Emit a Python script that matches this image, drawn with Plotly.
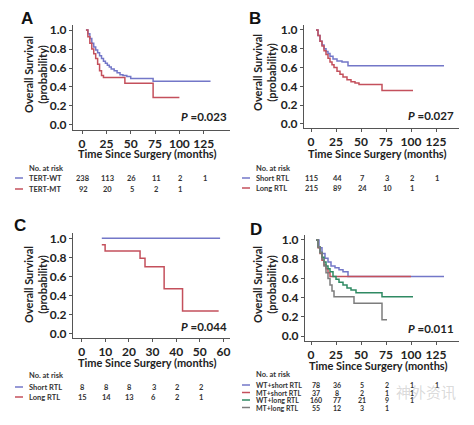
import plotly.graph_objects as go

# the page body has an 8px margin, so the figure is drawn 8px in from the corner
PAD = 8
W, H = 474 - PAD, 425 - PAD

# ---- survival curves (time in months, survival probability), step-wise ----
a_wt_t = [4, 6, 8, 10, 12, 14, 16, 18, 20, 22, 24, 26, 28, 30, 33, 36, 39, 42, 46, 50, 73, 132]
a_wt_s = [1.0, 0.96, 0.91, 0.86, 0.82, 0.79, 0.76, 0.73, 0.70, 0.67, 0.65, 0.63, 0.61, 0.59,
          0.57, 0.55, 0.53, 0.52, 0.51, 0.49, 0.46, 0.46]
a_mt_t = [4, 6, 8, 10, 12, 14, 16, 18, 20, 22, 44, 73, 100]
a_mt_s = [1.0, 0.93, 0.86, 0.80, 0.75, 0.70, 0.64, 0.57, 0.52, 0.50, 0.44, 0.29, 0.29]

b_short_t = [5, 7, 9, 11, 13, 15, 17, 19, 22, 26, 31, 37, 133]
b_short_s = [1.0, 0.94, 0.88, 0.84, 0.80, 0.77, 0.75, 0.72, 0.69, 0.67, 0.66, 0.62, 0.62]
b_long_t = [5, 7, 9, 11, 13, 15, 17, 19, 21, 23, 26, 29, 32, 36, 40, 44, 48, 71, 102]
b_long_s = [1.0, 0.94, 0.88, 0.83, 0.78, 0.74, 0.70, 0.66, 0.63, 0.60, 0.56, 0.53, 0.50,
            0.47, 0.45, 0.435, 0.42, 0.355, 0.355]

c_short_t = [8.5, 58.6]
c_short_s = [1.0, 1.0]
c_long_t = [8.5, 9.9, 24.7, 26.8, 34.9, 42.7, 58]
c_long_s = [0.933, 0.867, 0.79, 0.70, 0.47, 0.235, 0.235]

d_wts_t = [5, 8, 11, 14, 17, 20, 24, 28, 32, 37, 133]
d_wts_s = [1.0, 0.92, 0.86, 0.81, 0.77, 0.73, 0.71, 0.69, 0.67, 0.62, 0.62]
d_mts_t = [5, 7, 9, 11, 13, 15, 17, 19, 100]
d_mts_s = [1.0, 0.92, 0.86, 0.79, 0.74, 0.70, 0.66, 0.62, 0.62]
d_wtl_t = [5, 7, 9, 11, 13, 15, 17, 19, 22, 25, 28, 32, 36, 40, 45, 71, 102]
d_wtl_s = [1.0, 0.93, 0.87, 0.82, 0.77, 0.73, 0.70, 0.67, 0.62, 0.59, 0.56, 0.53, 0.50,
           0.48, 0.45, 0.41, 0.41]
d_mtl_t = [5, 7, 9, 11, 13, 15, 17, 19, 21, 23, 43, 71, 76]
d_mtl_s = [1.0, 0.93, 0.87, 0.80, 0.73, 0.66, 0.60, 0.53, 0.47, 0.41, 0.34, 0.17, 0.17]

# ---- numbers at risk ----
ab_risk_times = [0, 25, 50, 75, 100, 125]
c_risk_times = [0, 10, 20, 30, 40, 50]
c_x_ticks = [0, 10, 20, 30, 40, 50, 60]
a_labels = ["TERT-WT", "TERT-MT"]
a_risk = [[238, 113, 26, 11, 2, 1], [92, 20, 5, 2, 1]]
b_labels = ["Short RTL", "Long RTL"]
b_risk = [[115, 44, 7, 3, 2, 1], [215, 89, 24, 10, 1]]
c_labels = ["Short RTL", "Long RTL"]
c_risk = [[8, 8, 8, 3, 2, 2], [15, 14, 13, 6, 2, 1]]
d_labels = ["WT+short RTL", "MT+short RTL", "WT+long RTL", "MT+long RTL"]
d_risk = [[78, 36, 5, 2, 1, 1], [37, 8, 2, 1, 1], [160, 77, 21, 9, 1], [55, 12, 3, 1]]

p_values = ["0.023", "0.027", "0.044", "0.011"]
y_ticks = [0, 0.2, 0.4, 0.6, 0.8, 1.0]

BLUE = "#7377c8"
RED = "#c4505c"
GREEN = "#2f8a63"
GRAY = "#7d7d7d"
TXT = "#222222"
FONT = "Lato"


def px(x):
    return (x - PAD) / W


def py(y):
    return 1 - (y - PAD) / H


panels = [
    dict(letter="A", box=(73, 230, 25, 130), xr=[-9.3, 152], yr=[-0.053, 1.053],
         xt=ab_risk_times, rt=ab_risk_times,
         curves=[(a_wt_t, a_wt_s, BLUE), (a_mt_t, a_mt_s, RED)],
         labels=a_labels, risk=a_risk, colors=[BLUE, RED], letter_xy=(27, 19),
         ytitle_xy=(35, 75), xtitle_xy=(147, 153), p_xy=(229, 117),
         risk_head=168, rows=[178, 189], lab_x=27, shift=1, fs=7.5),
    dict(letter="B", box=(304, 459, 25, 128), xr=[-7, 148], yr=[-0.043, 1.053],
         xt=ab_risk_times, rt=ab_risk_times,
         curves=[(b_short_t, b_short_s, BLUE), (b_long_t, b_long_s, RED)],
         labels=b_labels, risk=b_risk, colors=[BLUE, RED], letter_xy=(255, 19),
         ytitle_xy=(264, 73), xtitle_xy=(377, 153), p_xy=(456, 116),
         risk_head=168, rows=[178, 188], lab_x=254, shift=0, fs=7.5),
    dict(letter="C", box=(73, 230, 233, 338), xr=[-3.7, 62.8], yr=[-0.049, 1.056],
         xt=c_x_ticks, rt=c_risk_times,
         curves=[(c_short_t, c_short_s, BLUE), (c_long_t, c_long_s, RED)],
         labels=c_labels, risk=c_risk, colors=[BLUE, RED], letter_xy=(20, 225),
         ytitle_xy=(35, 285), xtitle_xy=(147, 362), p_xy=(229, 326),
         risk_head=375, rows=[387, 397], lab_x=27, shift=1, fs=7.5),
    dict(letter="D", box=(305, 459, 235, 341), xr=[-6, 148], yr=[-0.052, 1.052],
         xt=ab_risk_times, rt=ab_risk_times,
         curves=[(d_wts_t, d_wts_s, BLUE), (d_mts_t, d_mts_s, RED),
                 (d_wtl_t, d_wtl_s, GREEN), (d_mtl_t, d_mtl_s, GRAY)],
         labels=d_labels, risk=d_risk, colors=[BLUE, RED, GREEN, GRAY], letter_xy=(256, 229),
         ytitle_xy=(264, 285), xtitle_xy=(378, 365), p_xy=(456, 328),
         risk_head=374, rows=[385, 392.5, 400, 407.5], lab_x=254, shift=5, fs=7),
]

fig = go.Figure()
annotations = []
shapes = []
layout = {}

axis_common = dict(showline=True, linecolor="#555555", linewidth=1, ticks="outside",
                   ticklen=3, tickcolor="#555555", showgrid=False, zeroline=False,
                   fixedrange=True, automargin=False,
                   tickfont=dict(family=FONT, size=12, color=TXT, weight="bold"))


def note(text, x, y, size, xanchor="center", xref="paper", **kw):
    d = dict(text=text, x=x, y=y, xref=xref, yref="paper", showarrow=False,
             xanchor=xanchor, yanchor="middle", font=dict(family=FONT, size=size, color=TXT))
    d.update(kw)
    annotations.append(d)


for i, p in enumerate(panels):
    n = "" if i == 0 else str(i + 1)
    xa, ya = "x" + n, "y" + n
    x0, x1, top, bottom = p["box"]
    layout["xaxis" + n] = dict(axis_common, domain=[px(x0), px(x1)], range=p["xr"],
                               tickvals=p["xt"], anchor=ya)
    layout["yaxis" + n] = dict(axis_common, domain=[py(bottom), py(top)], range=p["yr"],
                               tickvals=y_ticks, tickformat=".1f", anchor=xa)

    for t, s, col in p["curves"]:
        fig.add_trace(go.Scatter(x=t, y=s, mode="lines", line_shape="hv",
                                 line=dict(color=col, width=1.5),
                                 xaxis=xa, yaxis=ya, showlegend=False))

    lx, ly = p["letter_xy"]
    note("<b>%s</b>" % p["letter"], px(lx), py(ly), 17,
         font=dict(family="Liberation Sans", size=17, color="#111"))
    tx, ty = p["ytitle_xy"]
    note("<b>Overall Survival<br>(probability)</b>", px(tx), py(ty), 11, textangle=-90)
    tx, ty = p["xtitle_xy"]
    note("<b>Time Since Surgery (months)</b>", px(tx), py(ty), 11)
    tx, ty = p["p_xy"]
    note("<b><i>P</i> =%s</b>" % p_values[i], px(tx), py(ty), 11.5, xanchor="right")

    # number-at-risk table
    lab_x = p["lab_x"]
    small = dict(family=FONT, size=p["fs"], color="#333")
    note("<b>No. at risk</b>", px(lab_x), py(p["risk_head"]), 7.5, xanchor="left",
         font=dict(small, size=7.5))
    for r, row_y in enumerate(p["rows"]):
        shapes.append(dict(type="line", xref="paper", yref="paper",
                           x0=px(lab_x - 12), x1=px(lab_x - 4), y0=py(row_y), y1=py(row_y),
                           line=dict(color=p["colors"][r], width=1.5)))
        note("<b>%s</b>" % p["labels"][r], px(lab_x), py(row_y), p["fs"], xanchor="left", font=small)
        for k, val in enumerate(p["risk"][r]):
            note("<b>%d</b>" % val, p["rt"][k], py(row_y), p["fs"], xref=xa, font=small,
                 xshift=p["shift"] if k == 0 else 1)

# faint watermark over panel D's table
note("神外资讯", px(426), py(391), 15,
     font=dict(family="Noto Sans CJK SC", size=15, color="rgba(160,160,160,0.4)"))

fig.update_layout(width=W, height=H, margin=dict(l=0, r=0, t=0, b=0),
                  paper_bgcolor="white", plot_bgcolor="white",
                  annotations=annotations, shapes=shapes, **layout)

fig.write_html("out.html")
